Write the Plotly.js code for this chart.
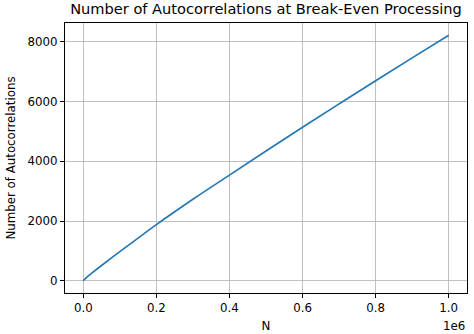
<!DOCTYPE html>
<html>
<head>
<meta charset="utf-8">
<script src="https://cdn.plot.ly/plotly-3.0.1.min.js"></script>
<style>html,body{margin:0;padding:0;background:#fff;}#chart{width:474px;height:334px;}</style>
</head>
<body>
<div id="chart"></div>
<script>
// Data
const N = [0, 10000, 25000, 50000, 100000, 150000, 200000, 300000, 400000, 500000, 600000, 700000, 800000, 900000, 1000000];
const autocorrelations = [0, 120, 270, 510, 975, 1430, 1880, 2730, 3540, 4345, 5140, 5925, 6700, 7465, 8222];
const xTickLabels = ["0.0", "0.2", "0.4", "0.6", "0.8", "1.0"];
const xTickScale = 1e6;
const yTickValues = [0, 2000, 4000, 6000, 8000];

const font = "DejaVu Sans, sans-serif";
const xmin = 0, xmax = Math.max(...N);
const ymin = 0, ymax = Math.max(...autocorrelations);
const xpad = 0.05 * (xmax - xmin), ypad = 0.05 * (ymax - ymin);

const trace = {
  x: N, y: autocorrelations, type: 'scatter', mode: 'lines',
  line: {color: '#1f77b4', width: 1.6, shape: 'spline', smoothing: 1}, hoverinfo: 'skip'
};

const axisCommon = {
  showline: true, mirror: true, linecolor: '#000', linewidth: 1,
  showgrid: true, gridcolor: '#b0b0b0', gridwidth: 0.8,
  zeroline: false, ticks: 'outside', ticklen: 4, tickwidth: 1, tickcolor: '#000',
  tickfont: {family: font, size: 11.8, color: '#000'}
};

const layout = {
  width: 474, height: 334,
  paper_bgcolor: '#fff', plot_bgcolor: '#fff',
  margin: {l: 65, r: 7, t: 23, b: 41},
  showlegend: false,
  title: {text: 'Number of Autocorrelations at Break-Even Processing',
          font: {family: font, size: 14.6, color: '#000'},
          x: 0.5, xref: 'paper', xanchor: 'center', y: 1, yref: 'container', yanchor: 'top', pad: {t: 4}},
  xaxis: Object.assign({}, axisCommon, {
    range: [xmin - xpad, xmax + xpad],
    tickmode: 'array',
    tickvals: xTickLabels.map(t => parseFloat(t) * xTickScale),
    ticktext: xTickLabels,
    title: {text: 'N', font: {family: font, size: 11.8, color: '#000'}, standoff: 7}
  }),
  yaxis: Object.assign({}, axisCommon, {
    range: [ymin - ypad, ymax + ypad],
    tickmode: 'array', tickvals: yTickValues, ticktext: yTickValues.map(String),
    title: {text: 'Number of Autocorrelations', font: {family: font, size: 11.8, color: '#000'}, standoff: 9}
  }),
  annotations: [{
    text: '1e6', xref: 'paper', yref: 'paper', x: 1, y: 0, xanchor: 'right', yanchor: 'top',
    yshift: -24, showarrow: false, font: {family: font, size: 11.8, color: '#000'}
  }]
};

Plotly.newPlot('chart', [trace], layout, {staticPlot: true, displayModeBar: false});
</script>
</body>
</html>
